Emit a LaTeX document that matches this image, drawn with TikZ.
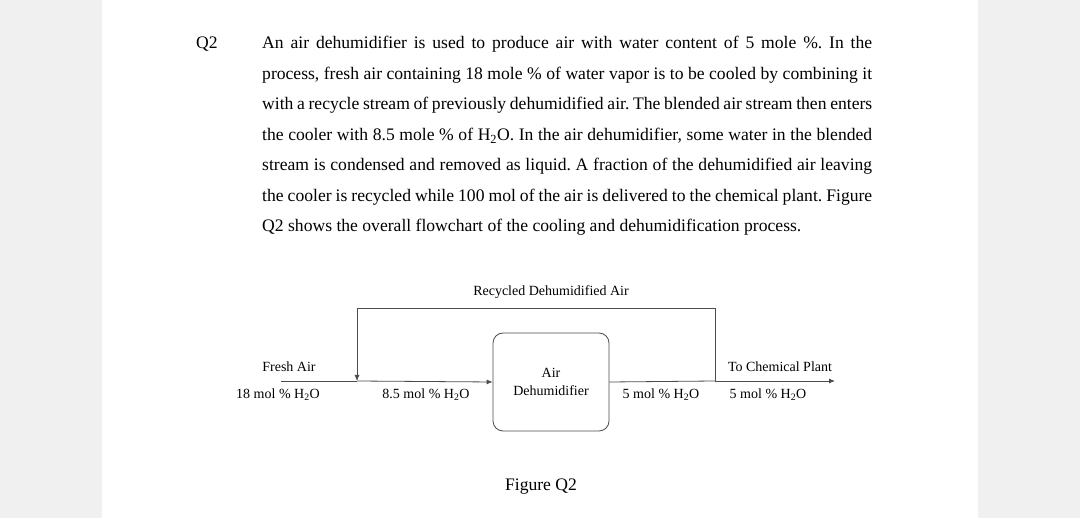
\documentclass[tikz,border=0pt]{standalone}
\usepackage{fontspec}
\usetikzlibrary{arrows.meta}
\setmainfont{Liberation Serif}
\frenchspacing
\begin{document}
\begin{tikzpicture}[x=1pt,y=-1pt,
  ln/.style={draw=black!70,line width=0.8pt},
  arr/.style={ln,-{Latex[length=6pt,width=5pt]}},
  lbl/.style={font=\fontsize{14}{16.5}\selectfont,inner sep=0pt},
  para/.style={font=\fontsize{17.6}{20}\selectfont,anchor=base west,inner sep=0pt}]
\useasboundingbox (0,0) rectangle (1080,518);
\fill[black!6] (0,0) rectangle (1080,518);
\fill[white] (102,0) rectangle (978,518);
\node[para] (q) at (196,49) {Q2};
\node[para] (l1) at (262,49) {\makebox[610pt][s]{An air dehumidifier is used to produce air with water content of 5 mole \%. In the}};
\node[para] (l2) at (262,79.5) {\makebox[610pt][s]{process, fresh air containing 18 mole \% of water vapor is to be cooled by combining it}};
\node[para] (l3) at (262,110) {\makebox[610pt][s]{with a recycle stream of previously dehumidified air. The blended air stream then enters}};
\node[para] (l4) at (262,140.5) {\makebox[610pt][s]{the cooler with 8.5 mole \% of H\textsubscript{2}O. In the air dehumidifier, some water in the blended}};
\node[para] (l5) at (262,171) {\makebox[610pt][s]{stream is condensed and removed as liquid. A fraction of the dehumidified air leaving}};
\node[para] (l6) at (262,201.5) {\makebox[610pt][s]{the cooler is recycled while 100 mol of the air is delivered to the chemical plant. Figure}};
\node[para] (l7) at (262,232) {Q2 shows the overall flowchart of the cooling and dehumidification process.};

\node[ln,rounded corners=10pt,minimum width=116pt,minimum height=98pt,inner sep=0pt] (box) at (551,382) {};
\node[lbl,align=center] (boxt) at (551,382) {Air\\[1pt]Dehumidifier};
\coordinate (in) at (281,381);
\coordinate (mix) at (357,381);
\coordinate (split) at (715,381);
\coordinate (out) at (835,381);
\coordinate (tl) at (357,308);
\coordinate (tr) at (715,308);
\draw[ln] (in) -- (mix);
\draw[arr] (mix) -- (box.west);
\draw[ln] (box.east) -- (split);
\draw[arr] (split) -- (out);
\draw[arr] (split) -- (tr) -- (tl) -- (mix);

\node[lbl] (rec) at (551,292) {Recycled Dehumidified Air};
\node[lbl] (fa) at (289,367) {Fresh Air};
\node[lbl] (f18) at (278,395) {18 mol \% H\textsubscript{2}O};
\node[lbl] (f85) at (426,395) {8.5 mol \% H\textsubscript{2}O};
\node[lbl] (f5a) at (661,395) {5 mol \% H\textsubscript{2}O};
\node[lbl] (tcp) at (780,367) {To Chemical Plant};
\node[lbl] (f5b) at (768,395) {5 mol \% H\textsubscript{2}O};
\node[font=\fontsize{17.6}{20}\selectfont,inner sep=0pt] (fig) at (541,487) {Figure Q2};
\end{tikzpicture}
\end{document}
